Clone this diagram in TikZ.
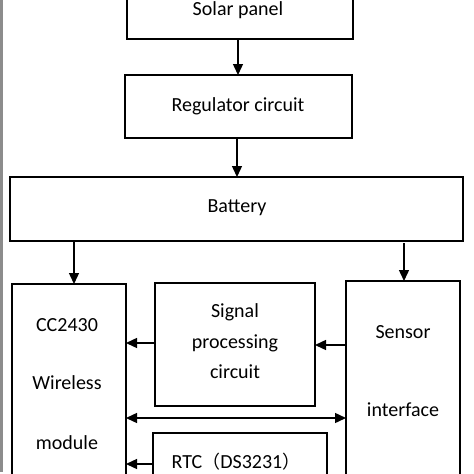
\documentclass[tikz,border=0pt]{standalone}
\usepackage{fontspec}
\setmainfont{Carlito}
\newfontfamily\cjk{Noto Sans CJK SC}
\usetikzlibrary{arrows.meta}
\tikzset{
  blk/.style={draw=black, line width=1.4pt, fill=white},
  lbl/.style={inner sep=0pt, font=\fontsize{20}{22}\selectfont, text=black},
  arr/.style={line width=1.4pt, -{Triangle[length=11pt,width=10pt]}},
  darr/.style={line width=1.4pt, {Triangle[length=11pt,width=10pt]}-{Triangle[length=11pt,width=10pt]}}
}
\begin{document}
\begin{tikzpicture}[x=1pt,y=-1pt]
\useasboundingbox (0,0) rectangle (474,474);
\begin{scope}
\clip (0,0) rectangle (474,474);
\fill[white] (0,0) rectangle (474,474);
\fill[black!45] (0,0) rectangle (2.5,472);
% boxes
\draw[blk] (127,-30) rectangle (353,39);
\draw[blk] (125,75) rectangle (352,138);
\draw[blk] (10,177) rectangle (463,241);
\draw[blk] (12,284) rectangle (126,500);
\draw[blk] (155,283) rectangle (315,406);
\draw[blk] (346,281) rectangle (460,500);
\draw[blk] (153,433) rectangle (327,500);
% labels
\node[lbl] (solar) at (238,10) {Solar panel};
\node[lbl] (reg) at (238,106) {Regulator circuit};
\node[lbl] (bat) at (237,208) {Battery};
\node[lbl] (cc1) at (67,325) {CC2430};
\node[lbl] (cc2) at (67,383) {Wireless};
\node[lbl] (cc3) at (67,443) {module};
\node[lbl] (sp1) at (235,312) {Signal};
\node[lbl] (sp2) at (235,343) {processing};
\node[lbl] (sp3) at (235,372) {circuit};
\node[lbl] (se1) at (403,332) {Sensor};
\node[lbl] (se2) at (403,410) {interface};
\node[lbl] (rtc) at (236,462) {RTC{\cjk\fontsize{18}{20}\selectfont （}DS3231{\cjk\fontsize{18}{20}\selectfont ）}};
% connector coordinates
\coordinate (a1s) at (238,39);  \coordinate (a1e) at (238,75);
\coordinate (a2s) at (237,138); \coordinate (a2e) at (237,177);
\coordinate (a3s) at (74,241);  \coordinate (a3e) at (74,284);
\coordinate (a4s) at (404,243); \coordinate (a4e) at (404,281);
\coordinate (a5s) at (155,343); \coordinate (a5e) at (126,343);
\coordinate (a6s) at (346,345); \coordinate (a6e) at (315,345);
\coordinate (a7s) at (126,418); \coordinate (a7e) at (346,418);
\coordinate (a8s) at (153,464); \coordinate (a8e) at (126,464);
\draw[arr] (a1s) -- (a1e);
\draw[arr] (a2s) -- (a2e);
\draw[arr] (a3s) -- (a3e);
\draw[arr] (a4s) -- (a4e);
\draw[arr] (a5s) -- (a5e);
\draw[arr] (a6s) -- (a6e);
\draw[darr] (a7s) -- (a7e);
\draw[arr] (a8s) -- (a8e);
\end{scope}
\end{tikzpicture}
\end{document}
